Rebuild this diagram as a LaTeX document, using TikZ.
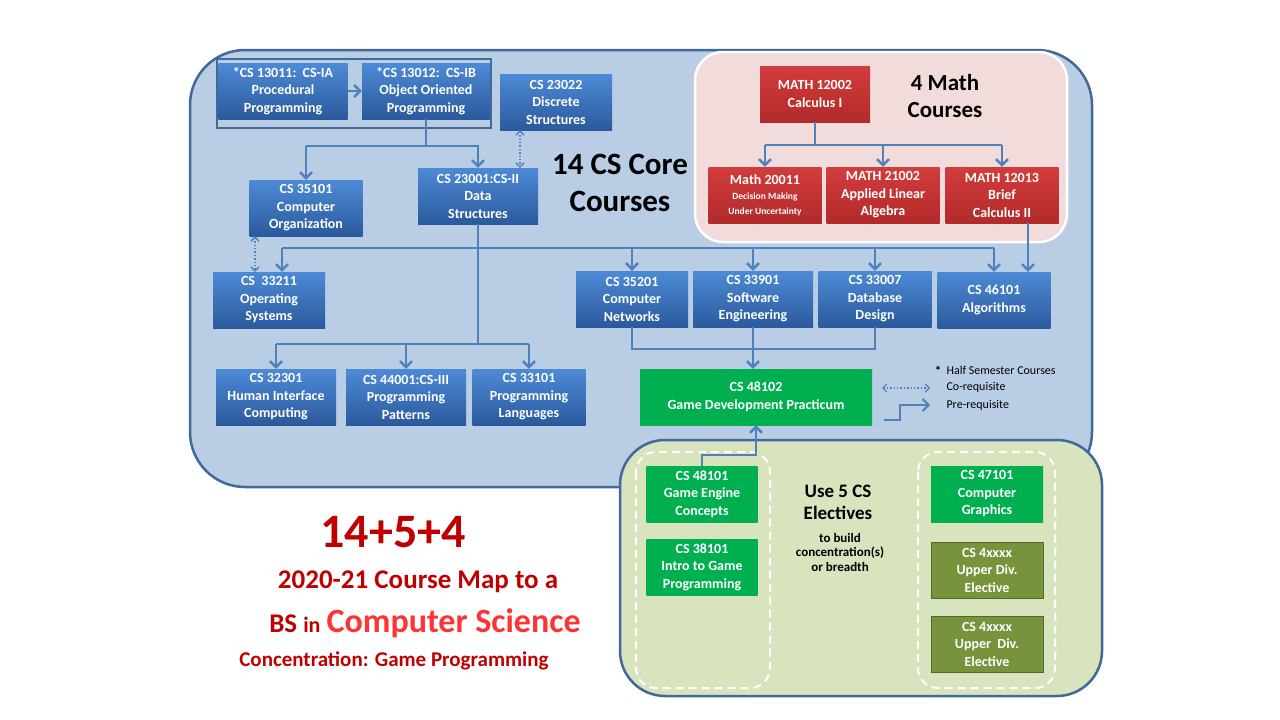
\documentclass[tikz,border=0pt]{standalone}
\usepackage{fontspec}
\setmainfont{Carlito}
\usetikzlibrary{arrows.meta}
\definecolor{bgblue}{HTML}{B9CDE5}
\definecolor{bdblue}{HTML}{41699A}
\definecolor{btop}{HTML}{4D8AD6}
\definecolor{bbot}{HTML}{2B5A9C}
\definecolor{ln}{HTML}{4F81BD}
\definecolor{mred}{HTML}{D23C3C}
\definecolor{mredb}{HTML}{B22A2A}
\definecolor{gg}{HTML}{00B050}
\definecolor{ol}{HTML}{77933C}
\definecolor{dred}{HTML}{C00000}
\definecolor{pinkbg}{HTML}{F2DCDB}
\definecolor{greenbg}{HTML}{D7E4BD}
\tikzset{
 x=1pt,y=-1pt,
 box/.style={draw=none,minimum width=#1,minimum height=56,align=center,text=white,
   font=\fontsize{14}{17.5}\selectfont\bfseries,top color=btop,bottom color=bbot,inner sep=1pt},
 box/.default=112,
 mbox/.style={box=#1,top color=mred,bottom color=mredb},
 mbox/.default=113,
 gbox/.style={box=#1,top color=gg,bottom color=gg},
 gbox/.default=112,
 obox/.style={box=#1,top color=ol,bottom color=ol},
 obox/.default=112,
 con/.style={draw=ln,line width=2.4pt,-{Straight Barb[length=6pt,width=12pt]}},
 lin/.style={draw=ln,line width=2.4pt},
 co/.style={draw=ln,line width=1.4pt,dotted,{Straight Barb[length=4pt,width=8pt]}-{Straight Barb[length=4pt,width=8pt]}},
}
\begin{document}
\begin{tikzpicture}
\useasboundingbox (0,0) rectangle (1280,720);
\fill[white] (0,0) rectangle (1280,720);
% regions
\draw[bdblue,line width=2.5pt,fill=bgblue,rounded corners=55] (190,50) rectangle (1092,487);
\draw[white,line width=2.5pt,fill=pinkbg,rounded corners=28] (695,52) rectangle (1067,242);
\draw[bdblue,line width=2.5pt,fill=greenbg,rounded corners=45] (620,440) rectangle (1102,696);
\draw[white,line width=2pt,dashed,dash pattern=on 8pt off 5pt,rounded corners=20] (636,452) rectangle (770,688);
\draw[white,line width=2pt,dashed,dash pattern=on 8pt off 5pt,rounded corners=20] (918,452) rectangle (1055,688);
\draw[bdblue,line width=2.5pt] (217,59) rectangle (491,128);
% nodes
\node[box=129] (a) at (283,91) {*CS 13011:\ \ CS-IA\\Procedural\\Programming};
\node[box=128] (b) at (426,91) {*CS 13012:\ \ CS-IB\\Object Oriented\\Programming};
\node[box] (c) at (556,102) {CS 23022\\Discrete\\Structures};
\node[box=113] (d) at (306,208) {CS 35101\\Computer\\Organization};
\node[box=120] (e) at (478,196) {CS 23001:CS-II\\Data\\Structures};
\node[box] (f) at (269,300) {CS\ \ 33211\\Operating\\Systems};
\node[box] (g) at (632,299) {CS 35201\\Computer\\Networks};
\node[box=120] (h) at (753,299) {CS 33901\\Software\\Engineering};
\node[box=113] (i) at (875,299) {CS 33007\\Database\\Design};
\node[box=113] (j) at (994,300) {CS 46101\\Algorithms};
\node[box=120] (k) at (276,397) {CS 32301\\Human Interface\\Computing};
\node[box=120] (l) at (406,397) {CS 44001:CS-III\\Programming\\Patterns};
\node[box=113] (m) at (529,397) {CS 33101\\Programming\\Languages};
\node[gbox=232] (n) at (756,397) {CS 48102\\Game Development Practicum};
\node[mbox=110] (o) at (815,94) {MATH 12002\\Calculus I};
\node[mbox=113] (p) at (765,195) {Math 20011\\[-2pt]{\fontsize{9.5}{11}\selectfont Decision Making}\\[-3pt]{\fontsize{9.5}{11}\selectfont Under Uncertainty}};
\node[mbox=113] (q) at (883,195) {MATH 21002\\Applied Linear\\Algebra};
\node[mbox=113] (r) at (1002,195) {MATH 12013\\Brief\\Calculus II};
\node[gbox=111] (s) at (702,494) {CS 48101\\Game Engine\\Concepts};
\node[gbox=111] (t) at (702,567) {CS 38101\\Intro to Game\\Programming};
\node[gbox=112] (u) at (987,494) {CS 47101\\Computer\\Graphics};
\node[obox=112,draw=ol!70!black,line width=0.8pt] (v) at (987,570) {CS 4xxxx\\Upper Div.\\Elective};
\node[obox=112,draw=ol!70!black,line width=0.8pt] (w) at (987,644) {CS 4xxxx\\Upper\ \ Div.\\Elective};
% connectors
\draw[con] (a.east) -- (b.west);
\draw[lin] (b.south) -- (426,146) -- (306,146);
\draw[con] (306,146) -- (d.north);
\draw[con] (426,146) -- (478,146) -- (e.north);
\draw[co] (c.south -| 520,0) -- (e.north -| 520,0);
\draw[co] (d.south -| 255,0) -- (f.north -| 255,0);
\draw[lin] (e.south) -- (478,344);
\draw[lin] (282,248) -- (994,248);
\draw[con] (282,248) -- (f.north -| 282,0);
\draw[con] (632,248) -- (g.north);
\draw[con] (753,248) -- (h.north);
\draw[con] (875,248) -- (i.north);
\draw[con] (994,248) -- (j.north -| 994,0);
\draw[con] (r.south -| 1028,0) -- (j.north -| 1028,0);
\draw[lin] (276,344) -- (529,344);
\draw[con] (276,344) -- (k.north);
\draw[con] (406,344) -- (l.north);
\draw[con] (529,344) -- (m.north);
\draw[lin] (g.south) -- (632,349) -- (875,349) -- (i.south);
\draw[con] (h.south) -- (n.north -| 753,0);
\draw[lin] (o.south) -- (815,145);
\draw[lin] (765,145) -- (1002,145);
\draw[con] (765,145) -- (p.north);
\draw[con] (883,145) -- (q.north);
\draw[con] (1002,145) -- (r.north);
\draw[con] (s.north) -- (702,455) -- (756,455) -- (n.south);
% legend
\node[font=\fontsize{13}{14}\selectfont\bfseries] (st) at (938,371) {*};
\node[anchor=west,font=\fontsize{12}{14}\selectfont] (l1) at (943,370) {Half Semester Courses};
\node[anchor=west,font=\fontsize{12}{14}\selectfont] (l2) at (943,387) {Co-requisite};
\node[anchor=west,font=\fontsize{12}{14}\selectfont] (l3) at (943,405) {Pre-requisite};
\coordinate (c1) at (882,388); \coordinate (c2) at (930,388);
\draw[co,line width=1.2pt] (c1) -- (c2);
\coordinate (p1) at (884,420); \coordinate (p2) at (930,405);
\draw[con,line width=2pt] (p1) -- (900,420) -- (900,405) -- (p2);
% titles
\node[font=\fontsize{31}{37}\selectfont\bfseries,align=center] (t1) at (620,183) {14 CS Core\\Courses};
\node[font=\fontsize{23}{27}\selectfont\bfseries,align=center] (t2) at (945,96) {4 Math\\Courses};
\node[font=\fontsize{19}{22}\selectfont\bfseries,align=center] (t3) at (838,502) {Use 5 CS\\Electives};
\node[font=\fontsize{13}{14.5}\selectfont\bfseries,align=center] (t4) at (840,552) {to build\\concentration(s)\\or breadth};
\node[font=\fontsize{48}{50}\selectfont\bfseries,text=dred] (h1) at (393,532) {14+5+4};
\node[font=\fontsize{27}{30}\selectfont\bfseries,text=dred] (h2) at (418,582) {2020-21 Course Map to a};
\node[font=\fontsize{27}{30}\selectfont\bfseries,text=dred] (h3) at (425,623) {BS {\fontsize{22}{24}\selectfont in} {\fontsize{34}{36}\selectfont\color{red!80!white}Computer Science}};
\node[font=\fontsize{21}{24}\selectfont\bfseries,text=dred] (h4) at (394,661) {Concentration: Game Programming};
\end{tikzpicture}
\end{document}
